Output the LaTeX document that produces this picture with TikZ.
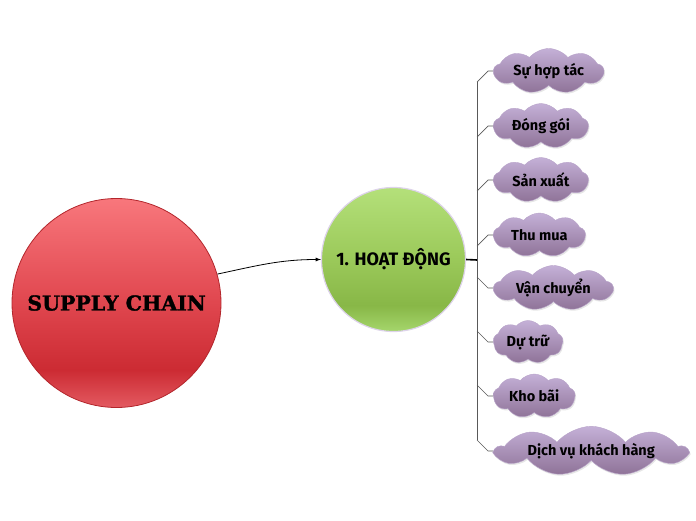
\documentclass[tikz,border=0pt]{standalone}
\usepackage{fontspec}
\setmainfont{Fira Sans}
\newfontfamily\slabfont{DejaVu Serif}[BoldFeatures={FakeBold=1.6}]
\usetikzlibrary{arrows}
\usetikzlibrary{shapes.symbols,shadows}

\definecolor{redtop}{HTML}{F8777C}
\definecolor{redmid}{HTML}{E24A52}
\definecolor{redband}{HTML}{CC2B33}
\definecolor{redbot}{HTML}{E35A61}
\definecolor{redline}{HTML}{B3262C}
\definecolor{greentop}{HTML}{B4E07A}
\definecolor{greenmid}{HTML}{9DCB5C}
\definecolor{greenband}{HTML}{88B747}
\definecolor{greenbot}{HTML}{A5D66C}
\definecolor{greenline}{HTML}{DDD3EA}
\definecolor{cloudtop}{HTML}{C4B0D7}
\definecolor{cloudbot}{HTML}{8F7398}
\definecolor{cloudline}{HTML}{B8A3C9}

\pgfdeclareverticalshading{redball}{100bp}{color(0bp)=(redbot); color(25bp)=(redbot); color(34bp)=(redband); color(52bp)=(redmid); color(75bp)=(redtop); color(100bp)=(redtop)}
\pgfdeclareverticalshading{greenball}{100bp}{color(0bp)=(greenbot); color(25bp)=(greenbot); color(34bp)=(greenband); color(52bp)=(greenmid); color(75bp)=(greentop); color(100bp)=(greentop)}

\tikzset{
  ball/.style={circle, inner sep=0pt, line width=0.8pt},
  leaf/.style={cloud, cloud puffs=9, cloud puff arc=100, cloud ignores aspect, anchor=west, inner sep=0pt,
    draw=cloudline, top color=cloudtop, bottom color=cloudbot,
    drop shadow={opacity=0.2, shadow xshift=1pt, shadow yshift=-1.5pt},
    font=\fontsize{14.5}{17}\selectfont\bfseries},
  branch/.style={draw=black!65, line width=0.7pt},
}

\begin{document}
\begin{tikzpicture}[x=1pt,y=-1pt]
\useasboundingbox (0,0) rectangle (696,520);
\node[ball, draw=redline, shading=redball, minimum size=209pt, font=\slabfont\fontsize{20.5}{24}\selectfont\bfseries] (SC) at (116.5,303) {SUPPLY CHAIN};
\node[ball, draw=greenline, shading=greenball, line width=1.2pt, minimum size=144pt, font=\fontsize{18}{21}\selectfont\bfseries] (HD) at (393.5,259.5) {1. HOẠT ĐỘNG};
\draw[-latex, line width=0.8pt] (SC.16) to[out=12,in=180] (HD.west);

\coordinate (T) at (477,260);
\coordinate (Ttop) at (477,82);
\coordinate (Tbot) at (477,440);
\draw[line width=1.6pt] (HD.east) -- (T);
\draw[branch] (Ttop) -- (Tbot);

\node[leaf, minimum width=110pt, minimum height=45pt] (C1) at (493,71) {Sự hợp tác};
\node[leaf, minimum width=95pt, minimum height=45pt] (C2) at (493,126) {Đóng gói};
\node[leaf, minimum width=95pt, minimum height=45pt] (C3) at (493,180) {Sản xuất};
\node[leaf, minimum width=92pt, minimum height=44pt] (C4) at (493,235) {Thu mua};
\node[leaf, minimum width=119pt, minimum height=45pt] (C5) at (493,288) {Vận chuyển};
\node[leaf, minimum width=70pt, minimum height=43pt] (C6) at (493,342) {Dự trữ};
\node[leaf, minimum width=82pt, minimum height=44pt] (C7) at (493,396) {Kho bãi};
\node[leaf, minimum width=191pt, minimum height=45pt] (C8) at (493,451) {Dịch vụ khách hàng};

\draw[branch] (C1.west) -- ++(-5,0) -- ++(-11,11);
\draw[branch] (C2.west) -- ++(-5,0) -- ++(-11,11);
\draw[branch] (C3.west) -- ++(-5,0) -- ++(-11,11);
\draw[branch] (C4.west) -- ++(-5,0) -- ++(-11,11);
\draw[branch] (C5.west) -- ++(-5,0) -- ++(-11,-11);
\draw[branch] (C6.west) -- ++(-5,0) -- ++(-11,-11);
\draw[branch] (C7.west) -- ++(-5,0) -- ++(-11,-11);
\draw[branch] (C8.west) -- ++(-5,0) -- ++(-11,-11);
\end{tikzpicture}
\end{document}
